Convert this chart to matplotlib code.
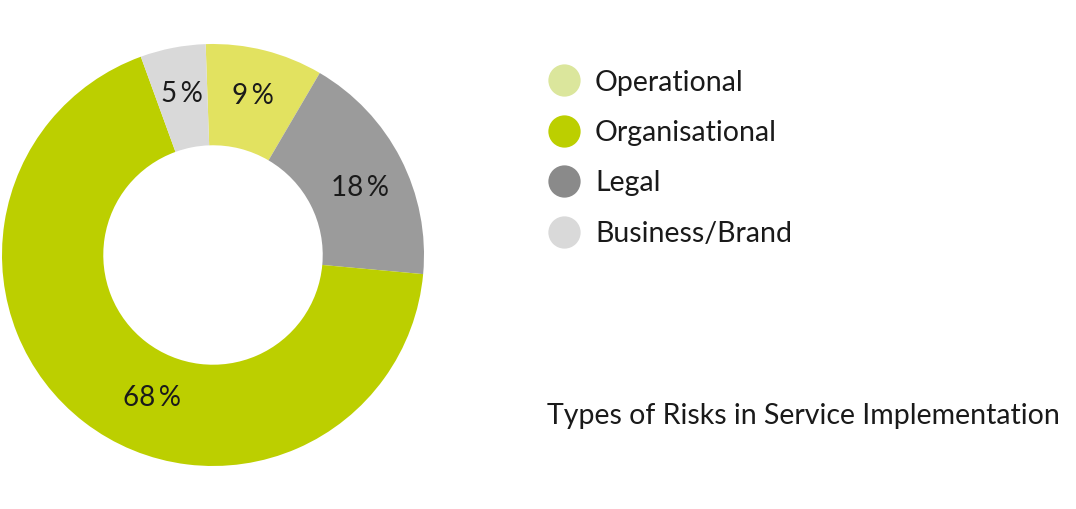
import matplotlib
matplotlib.use("Agg")
import matplotlib.pyplot as plt
import numpy as np

categories = ["Operational", "Legal", "Organisational", "Business/Brand"]
values = [9, 18, 68, 5]
slice_colors = ["#e2e260", "#9b9b9b", "#bccf00", "#d9d9d9"]

legend_labels = ["Operational", "Organisational", "Legal", "Business/Brand"]
legend_colors = ["#dbe69c", "#bccf00", "#8a8a8a", "#d9d9d9"]
title = "Types of Risks in Service Implementation"

# label placement tweaks (angle offset in degrees, radius) per slice
label_angle_offset = [0, -2.4, 14.4, 0]
label_radius = [0.78, 0.77, 0.73, 0.78]

plt.rcParams['font.family'] = ['Lato', 'DejaVu Sans']
W, H = 1076, 510
fig = plt.figure(figsize=(W / 100, H / 100), dpi=100)
fig.patch.set_facecolor("white")

# donut axes: outer ring spans x 2..424, y 45..467 (top-down pixels)
ax = fig.add_axes([2 / W, (H - 467) / H, 422 / W, 422 / H])
wedges, texts, autotexts = ax.pie(
    values, colors=slice_colors, startangle=92, counterclock=False,
    radius=1.0, wedgeprops=dict(width=0.48, linewidth=0),
    autopct=lambda p: f"{p:.0f}\u2009%", pctdistance=0.76,
    textprops=dict(fontsize=20, color="#1a1a1a"))
for w, t, da, r in zip(wedges, autotexts, label_angle_offset, label_radius):
    ang = np.deg2rad((w.theta1 + w.theta2) / 2 + da)
    t.set_position((r * np.cos(ang), r * np.sin(ang)))
ax.set_xlim(-1, 1)
ax.set_ylim(-1, 1)
ax.set_aspect("equal")
ax.axis("off")

# overlay axes in pixel coordinates for legend and title
ov = fig.add_axes([0, 0, 1, 1])
ov.set_xlim(0, W)
ov.set_ylim(H, 0)
ov.axis("off")
for i, (lab, col) in enumerate(zip(legend_labels, legend_colors)):
    y = 81 + i * 50.5
    ov.scatter([564], [y], s=540, color=col, linewidths=0)
    ov.text(595, y + 1.5, lab, fontsize=20.5, color="#1a1a1a", va="center", ha="left")

ov.text(547, 416, title, fontsize=20.5, color="#1a1a1a", va="center", ha="left")

fig.savefig("out.png", dpi=100, facecolor="white")
